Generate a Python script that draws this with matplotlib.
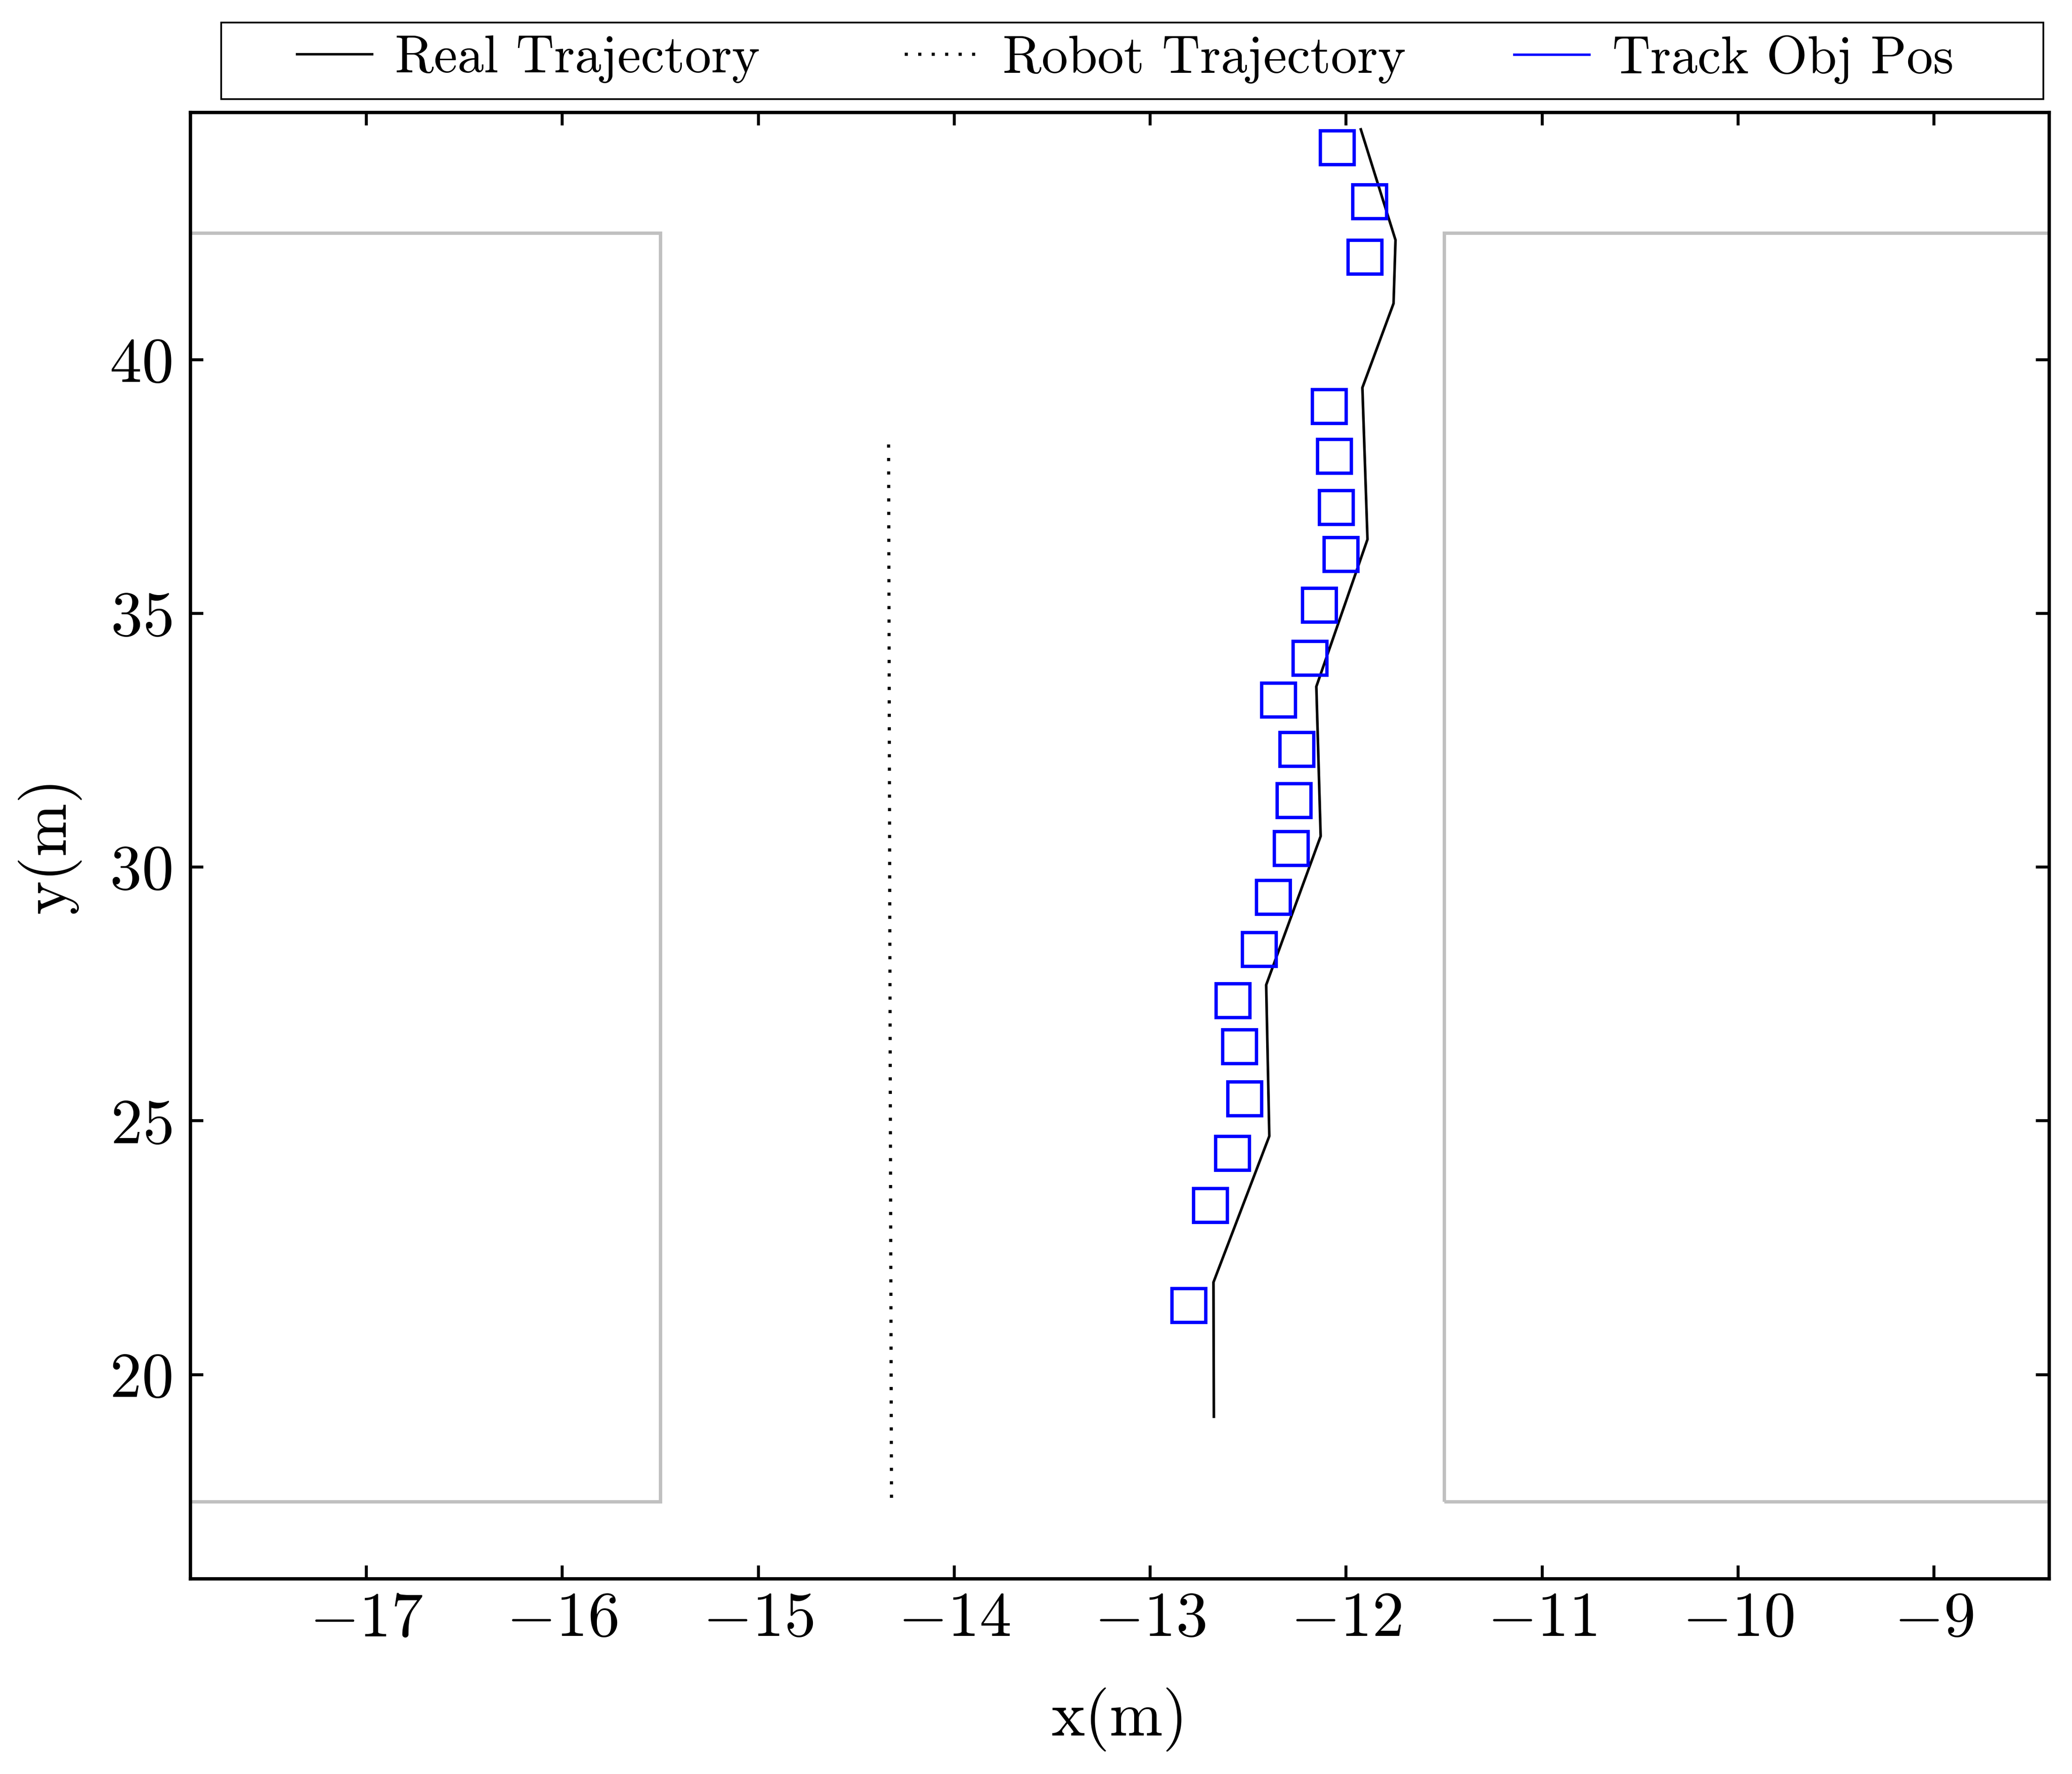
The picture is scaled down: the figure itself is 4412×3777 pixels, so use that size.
import matplotlib
matplotlib.use("Agg")
import matplotlib.pyplot as plt
from matplotlib.lines import Line2D
from matplotlib.patches import Rectangle

# ---------------- data ----------------
real_x = [-11.925, -11.748, -11.758, -11.917, -11.891, -12.152, -12.130,
          -12.408, -12.392, -12.677, -12.675]
real_y = [44.54, 42.36, 41.11, 39.45, 36.46, 33.56, 30.61,
          27.68, 24.70, 21.82, 19.17]

robot_x = [-14.335, -14.328, -14.320]
robot_y = [38.33, 27.9, 17.44]

track_x = [-12.047, -11.882, -11.904, -12.088, -12.061, -12.051, -12.027,
           -12.137, -12.186, -12.345, -12.252, -12.266, -12.282, -12.373,
           -12.444, -12.578, -12.546, -12.519, -12.582, -12.693, -12.804]
track_y = [44.18, 43.12, 42.03, 39.08, 38.10, 37.09, 36.17,
           35.17, 34.12, 33.30, 32.33, 31.32, 30.37, 29.41,
           28.38, 27.37, 26.47, 25.44, 24.37, 23.34, 21.37]

# obstacles (x0, y0, width, height)
wall_left = (-19.5, 17.5, 4.0, 25.0)
wall_right = (-11.5, 17.5, 4.0, 25.0)

xticks = [-17, -16, -15, -14, -13, -12, -11, -10, -9]
yticks = [20, 25, 30, 35, 40]
xlim = (-17.899, -8.413)
ylim = (15.98, 44.88)

labels = ["Real Trajectory", "Robot Trajectory", "Track Obj Pos"]

# ---------------- style ----------------
plt.rcParams["font.family"] = "serif"
plt.rcParams["font.serif"] = ["cmr10"]
plt.rcParams["mathtext.fontset"] = "cm"
plt.rcParams["axes.formatter.use_mathtext"] = True
plt.rcParams["axes.unicode_minus"] = True

DPI = 400
fig = plt.figure(figsize=(4412 / DPI, 3777 / DPI), dpi=DPI)
ax = fig.add_axes([0.0918, 0.11014, 0.9889 - 0.0918, 0.93680 - 0.11014])

gray = "#c0c0c0"
for (x0, y0, w, h) in (wall_left, wall_right):
    ax.add_patch(Rectangle((x0, y0), w, h, fill=False, edgecolor=gray,
                           linewidth=1.3, zorder=1))

ax.plot(real_x, real_y, color="black", linewidth=1.0, zorder=3)
ax.plot(robot_x, robot_y, color="black", linewidth=1.2,
        linestyle=(0, (1, 3.3)), zorder=3)
ax.plot(track_x, track_y, linestyle="none", marker="s", markersize=12.8,
        markerfacecolor="none", markeredgecolor="#0000ff",
        markeredgewidth=1.3, zorder=4)

ax.set_xlim(*xlim)
ax.set_ylim(*ylim)
ax.set_xticks(xticks)
ax.set_yticks(yticks)

for s in ax.spines.values():
    s.set_linewidth(1.3)

ax.tick_params(which="both", direction="in", top=True, right=True,
               length=5.0, width=1.15, labelsize=24.5)
ax.tick_params(axis="x", pad=5.0)
ax.tick_params(axis="y", pad=7.0)

ax.set_xlabel("x(m)", fontsize=24.5, labelpad=15)
ax.set_ylabel("y(m)", fontsize=24.5, labelpad=11)

# ---------------- legend ----------------
handles = [
    Line2D([], [], color="black", linewidth=0.95),
    Line2D([], [], color="black", linewidth=1.2, linestyle=(0, (1, 3.3))),
    Line2D([], [], color="#0000ff", linewidth=0.95),
]
entry_x = [632 / 4412, 1926 / 4412, 3224 / 4412]
for h, lab, ex in zip(handles, labels, entry_x):
    fig.legend([h], [lab], frameon=False,
               loc="center left", bbox_to_anchor=(ex, 0.9665),
               borderpad=0.0, borderaxespad=0.0,
               fontsize=20.25, handlelength=1.42, handletextpad=0.44)

fig.add_artist(Rectangle((0.10675, 0.94422), 0.87942, 0.04316,
                         transform=fig.transFigure, fill=False,
                         edgecolor="black", linewidth=0.65))

fig.savefig("out.png", dpi=DPI)
